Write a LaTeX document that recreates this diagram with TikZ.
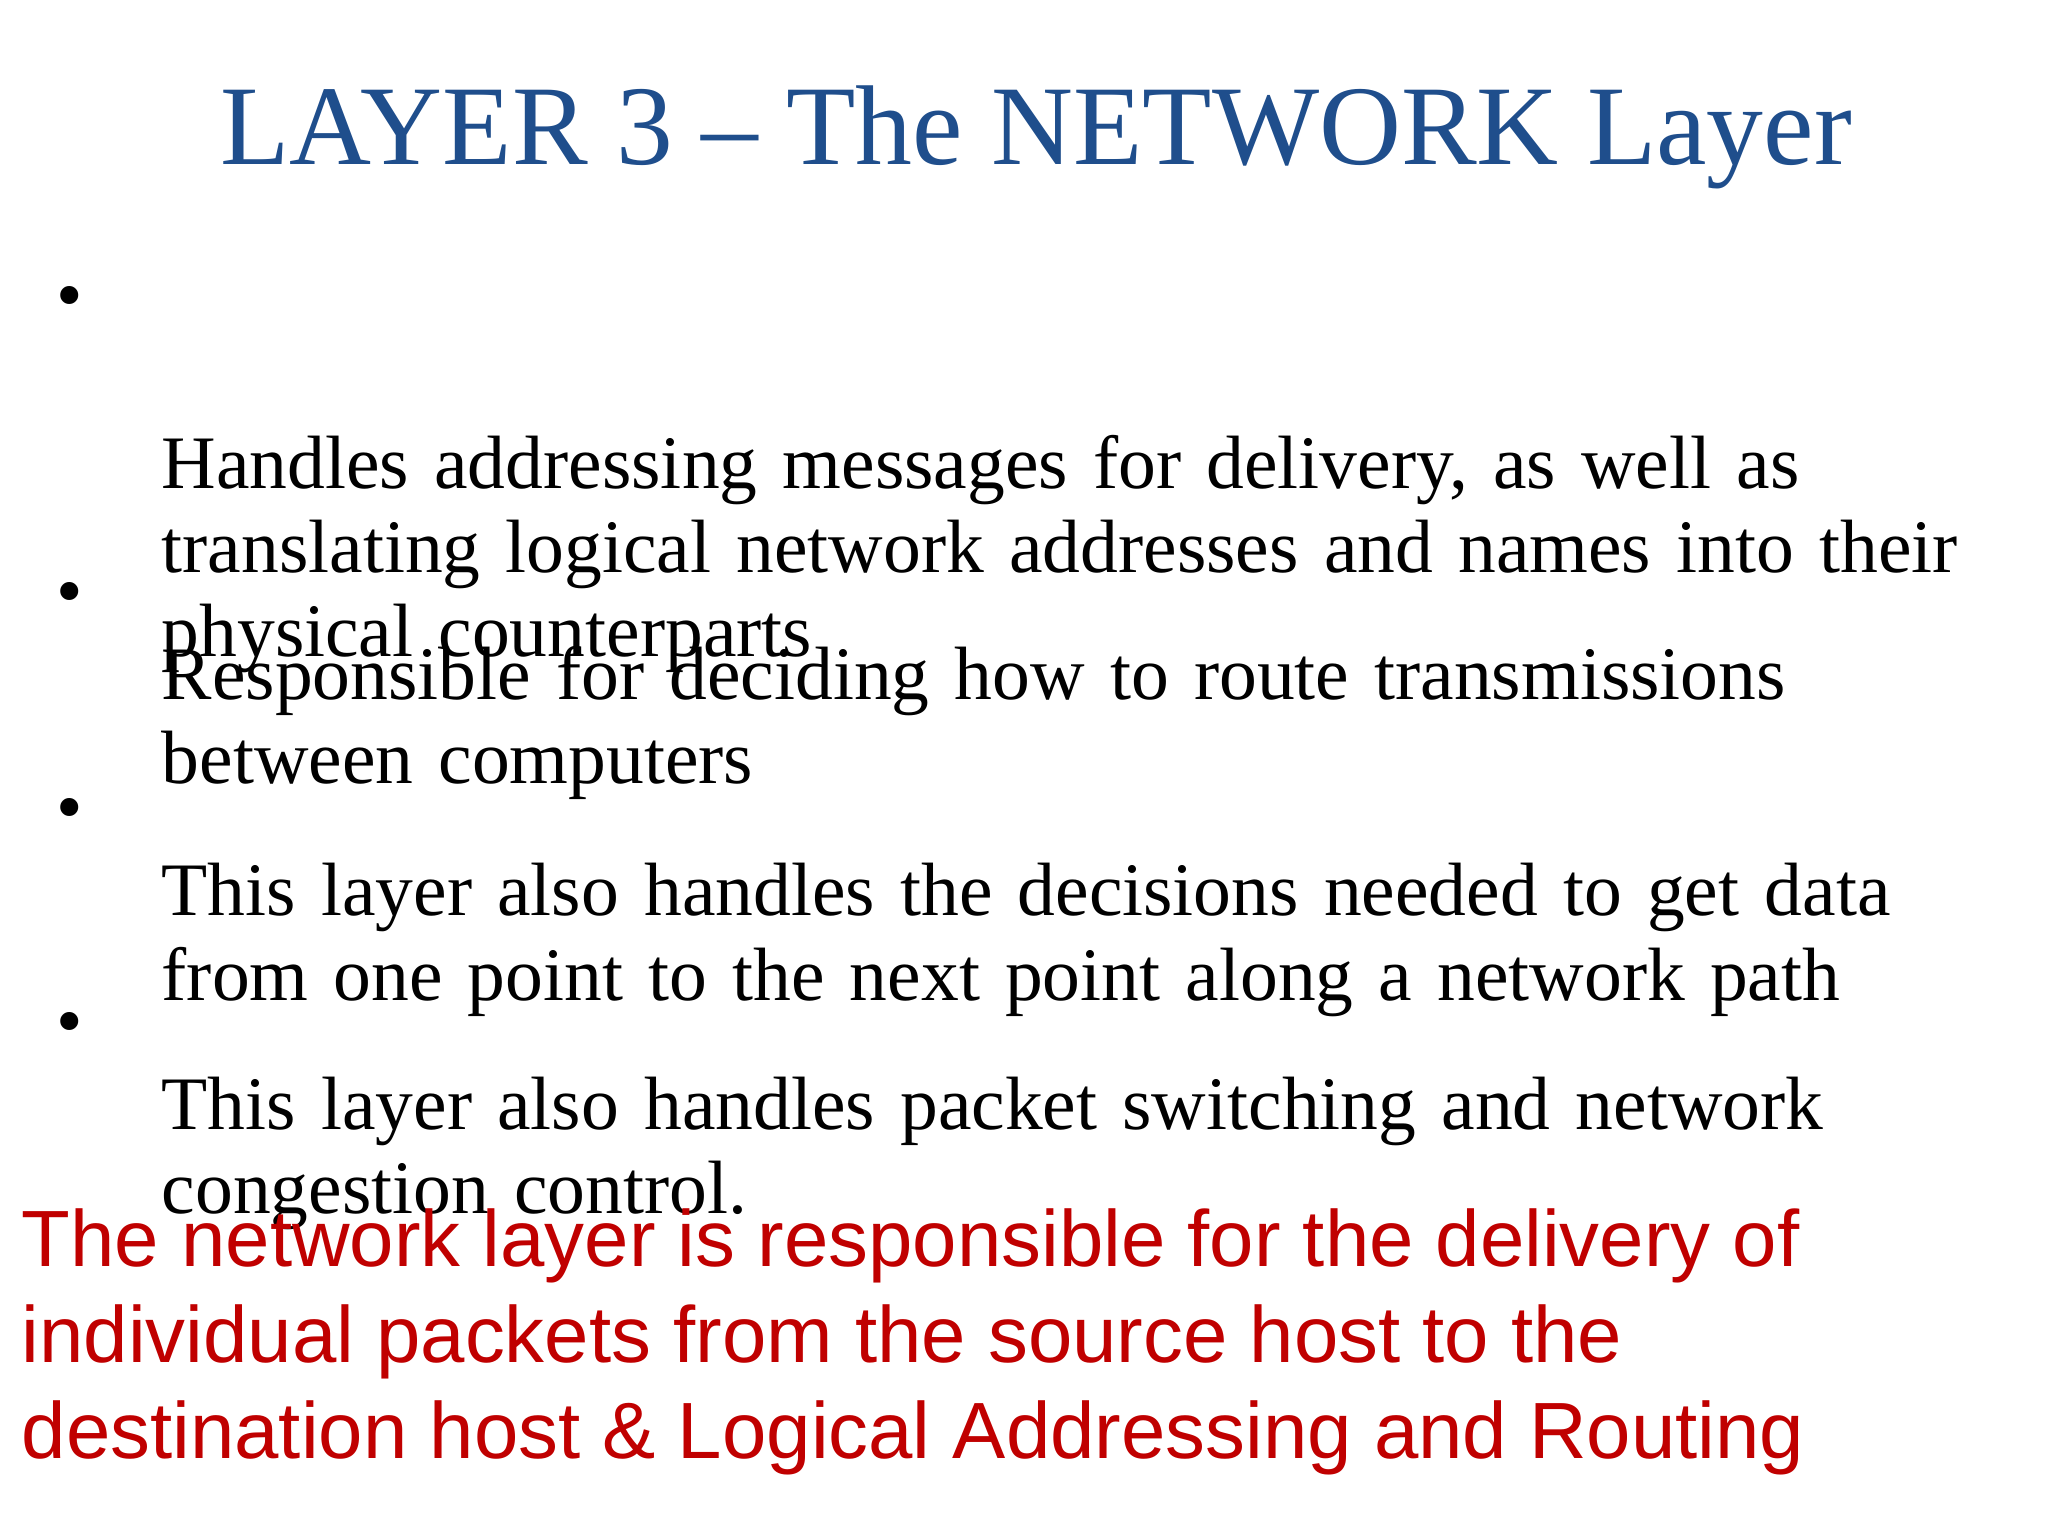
\documentclass[tikz,border=0pt]{standalone}
\usepackage{fontspec}
\setmainfont{Liberation Serif}
\newfontfamily\redsans{Liberation Sans}
\definecolor{titleblue}{HTML}{1F4E8C}
\definecolor{redtxt}{HTML}{C00000}
\begin{document}
\begin{tikzpicture}[x=0.013196cm,y=-0.013196cm,
  bul/.style={anchor=base west,inner sep=0pt,font=\fontsize{21.5}{24}\selectfont},
  item/.style={anchor=base west,inner sep=0pt,text width=18.19cm,font=\fontsize{21.5}{24}\selectfont,execute at begin node={\hyphenpenalty=10000\relax}},
  red/.style={anchor=base west,inner sep=0pt,align=left,text=redtxt,font=\redsans\fontsize{22.7}{27.3}\selectfont}]
\useasboundingbox (0,0) rectangle (1552,1164);
\node[anchor=base,inner sep=0pt,text=titleblue,font=\fontsize{32.3}{38}\selectfont] (title) at (785,125) {LAYER 3 -- The NETWORK Layer};
\node[bul] (b1) at (42,243) {•};
\node[item] (t1) at (122,370) {Handles addressing messages for delivery, as well as\linebreak translating logical network addresses and names into their\linebreak physical counterparts};
\node[bul] (b2) at (42,467) {•};
\node[item] (t2) at (122,530) {Responsible for deciding how to route transmissions\linebreak between computers};
\node[bul] (b3) at (42,631) {•};
\node[item] (t3) at (122,694) {This layer also handles the decisions needed to get data\linebreak from one point to the next point along a network path};
\node[bul] (b4) at (42,793) {•};
\node[item] (t4) at (122,856) {This layer also handles packet switching and network\linebreak congestion control.};
\node[red] (note) at (16,1105) {The network layer is responsible for the delivery of\\individual packets from the source host to the\\destination host \& Logical Addressing and Routing};
\end{tikzpicture}
\end{document}
